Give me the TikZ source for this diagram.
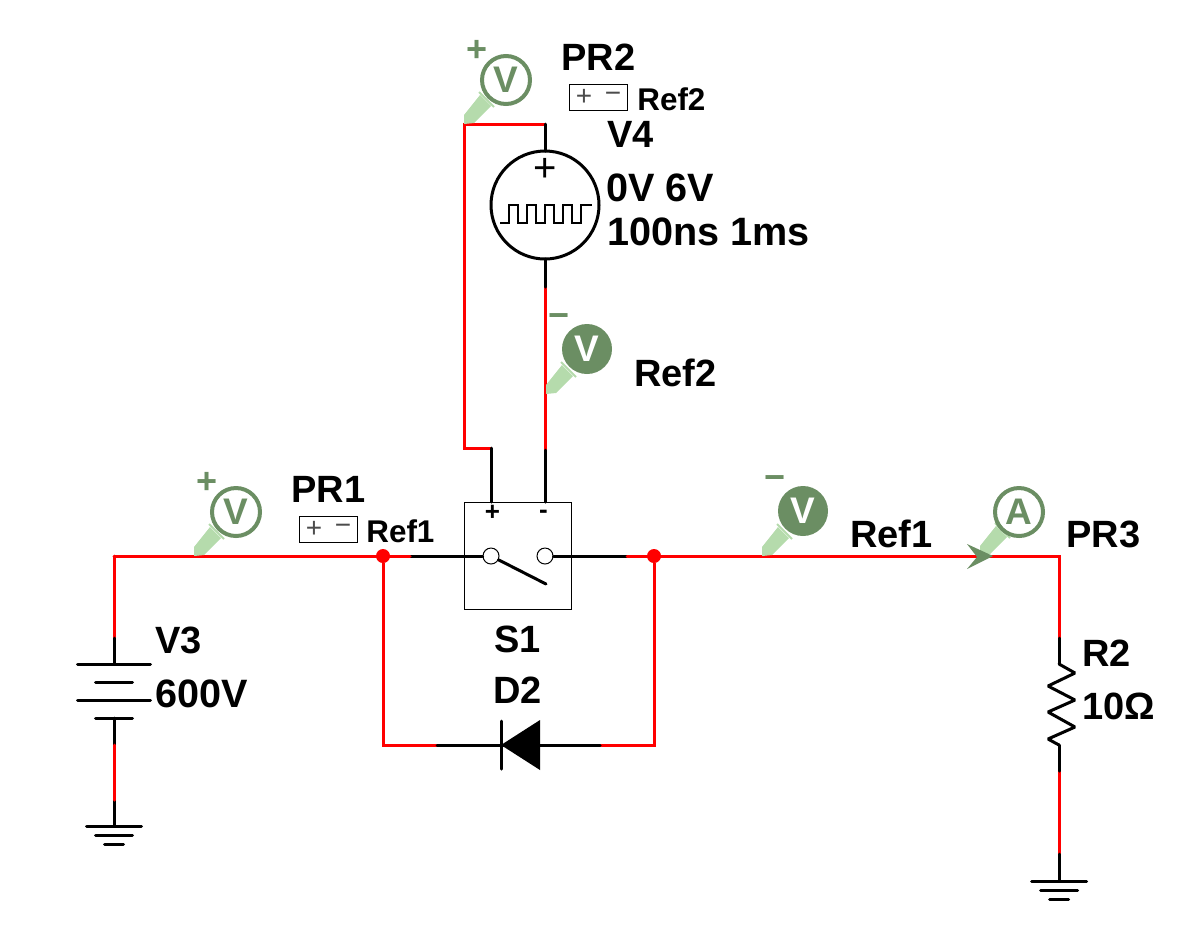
\documentclass[tikz,border=0pt]{standalone}
\usepackage{fontspec}
\setmainfont{Liberation Sans}
\usetikzlibrary{positioning}
\definecolor{probedark}{HTML}{6B8E63}
\definecolor{probepale}{HTML}{B5DBAC}
\tikzset{
    wire/.style={line width=1.5pt,line cap=round,line join=miter},
    redwire/.style={wire,red},
    thin box/.style={draw,line width=.5pt,inner sep=0pt},
    biglabel/.style={anchor=base west,inner sep=0pt,font=\fontsize{19}{19}\bfseries},
    valuelabel/.style={anchor=base west,inner sep=0pt,font=\fontsize{19.8}{19.8}\bfseries},
    smalllabel/.style={anchor=base west,inner sep=0pt,font=\fontsize{15.7}{15.7}\bfseries},
    sign/.style={inner sep=0pt,font=\fontsize{#1}{#1}\bfseries},
    boxsign/.style={inner sep=0pt,font=\fontsize{14}{14}\selectfont,text=black!70},
    dot/.style={circle,fill=red,inner sep=0pt,minimum size=7pt},
    terminal/.style={circle,draw,fill=white,line width=.5pt,inner sep=0pt,minimum size=8pt},
    handle/.pic={
        \fill[probepale] (0,0) -- (0,-9) -- (16,-29) -- (27,-18) -- (10,-1) -- cycle;
        \draw[probepale,line width=1pt] (15,-32) -- (30,-17);
    },
    vplus/.pic={
        \pic {handle};
        \node[circle,draw=probedark,line width=2pt,minimum size=24pt,inner sep=0pt,text=probedark,font=\fontsize{18.5}{18.5}\bfseries] (-c) at (42,-44) {V};
        \node[sign=18,text=probedark] (-s) at (13,-73) {+};
    },
    vminus/.pic={
        \pic {handle};
        \node[circle,fill=probedark,minimum size=25pt,inner sep=0pt,text=white,font=\fontsize{18.5}{18.5}\bfseries] (-c) at (41,-45) {V};
        \node[sign=18,text=probedark] (-s) at (13,-73) {−};
    }
}

\begin{document}
\begin{tikzpicture}[x=.5pt,y=-.5pt]
    \useasboundingbox (0,0) rectangle (1192,928);

    % wire corners
    \foreach \n/\x/\y in {a/114/556,b/114/638,c/114/663,d/114/718,e/114/745,f/114/800,g/114/826,
                          h/410/556,j/627/556,k/1059/556,l/1059/638,m/1059/664,n/1059/745,
                          o/1059/771,p/1059/854,q/1059/881,
                          r/383/745,s/437/745,t/600/745,u/654/745,
                          ctla/491/502,ctlb/491/448,ctlc/464/448,ctld/464/124,ctle/545/124,
                          ctlf/545/151,ctlg/545/259,ctlh/545/287,ctli/545/450,ctlj/545/502}
        \coordinate (\n) at (\x,\y);

    % switch
    \node[thin box,minimum width=53.5pt,minimum height=53.5pt] (S1) at (517.5,555.5) {};
    \node[terminal] (swl) at (491,556) {};
    \node[terminal] (swr) at (545,556) {};
    \node[sign=13] (swplus) at (492.5,513) {+};
    \node[sign=13] (swminus) at (543.5,514) {-};
    \coordinate (blade) at (546,584);
    \draw[wire] (swl) -- (blade);
    \draw[wire] (h) -- (swl);
    \draw[wire] (swr) -- (j);

    % red runs
    \node[dot] (jl) at (383,556) {};
    \node[dot] (jr) at (654,556) {};
    \draw[redwire] (a) -- (h);
    \draw[redwire] (j) -- (k) -- (l);
    \draw[redwire] (a) -- (b);
    \draw[redwire] (o) -- (p);
    \draw[redwire] (jl) -- (r) -- (s);
    \draw[redwire] (t) -- (u) -- (jr);
    \draw[redwire] (ctlb) -- (ctlc) -- (ctld) -- (ctle);
    \draw[redwire] (ctlh) -- (ctli);

    % black stubs
    \draw[wire] (b) -- (c);
    \draw[wire] (d) -- (e);
    \draw[wire] (f) -- (g);
    \draw[redwire] (e) -- (f);
    \draw[wire] (l) -- (m);
    \draw[wire] (n) -- (o);
    \draw[wire] (p) -- (q);
    \draw[wire] (ctla) -- (ctlb);
    \draw[wire] (ctle) -- (ctlf);
    \draw[wire] (ctlg) -- (ctlh);
    \draw[wire] (ctli) -- (ctlj);

    % battery
    \foreach \y/\w in {664/36.5,682/18.5,700/36.5,718/18.5}
        \draw[wire] (114-\w,\y) -- (114+\w,\y);

    % grounds
    \foreach \x/\y in {114/826,1059/881}{
        \draw[wire] (\x-27.5,\y) -- (\x+27.5,\y);
        \draw[wire] (\x-18.5,\y+9) -- (\x+18.5,\y+9);
        \draw[wire] (\x-9.5,\y+18) -- (\x+9.5,\y+18);
    }

    % resistor
    \draw[wire,line join=bevel] (m) -- (1075,673) -- (1048,686) -- (1075,700) -- (1048,712)
        -- (1075,727) -- (1048,739) -- (n);

    % diode
    \draw[wire] (s) -- (t);
    \draw[wire] (501,721) -- (501,769);
    \fill (501,745) -- (540,720) -- (540,770) -- cycle;

    % pulse source
    \node[circle,draw,line width=1.5pt,minimum size=54pt,inner sep=0pt] (V4) at (545,205) {};
    \node[inner sep=0pt,font=\fontsize{20}{20}\selectfont] (V4plus) at (545,170) {+};
    \draw[line width=1pt] (500,223) -- (509,223)
        \foreach \x in {509,527,545,563}{
            -- (\x,205) -- (\x+9,205) -- (\x+9,223) -- (\x+18,223)
        } -- (581,205) -- (592,205);

    % probes
    \pic (prone) at (194,556) {vplus};
    \pic (prtwo) at (464,124) {vplus};
    \pic (refone) at (762,556) {vminus};
    \pic (reftwo) at (546,394) {vminus};
    \pic at (980,555) {handle};
    \node[circle,draw=probedark,line width=2pt,minimum size=24pt,inner sep=0pt,text=probedark,font=\fontsize{18.5}{18.5}\bfseries] (PR3c) at (1019,512) {A};
    \fill[probedark] (967,544) -- (993,556) -- (967,569) -- (977,557) -- cycle;

    % reference boxes
    \node[thin box,minimum width=29pt,minimum height=13pt] (boxone) at (328,529) {};
    \node[thin box,minimum width=29pt,minimum height=13pt] (boxtwo) at (598,97) {};
    \node[boxsign] (boxonep) at (314,529) {+};
    \node[boxsign] (boxonem) at (343,529) {−};
    \node[boxsign] (boxtwop) at (584,97) {+};
    \node[boxsign] (boxtwom) at (613,97) {−};

    % labels
    \node[biglabel] (lPR1) at (291,502) {PR1};
    \node[biglabel] (lPR2) at (561,70) {PR2};
    \node[biglabel] (lPR3) at (1066,547) {PR3};
    \node[smalllabel] (lrefa) at (366,542) {Ref1};
    \node[smalllabel] (lrefb) at (637,110) {Ref2};
    \node[biglabel] (lrefc) at (850,547) {Ref1};
    \node[biglabel] (lrefd) at (634,386) {Ref2};
    \node[biglabel] (lV4) at (607,147) {V4};
    \node[valuelabel] (lV4a) at (606,201) {0V 6V};
    \node[valuelabel] (lV4b) at (607,245) {100ns 1ms};
    \node[biglabel] (lS1) at (494,652) {S1};
    \node[biglabel] (lD2) at (493,703) {D2};
    \node[biglabel] (lV3) at (155,653) {V3};
    \node[valuelabel] (lV3a) at (155,707) {600V};
    \node[biglabel] (lR2) at (1082,666) {R2};
    \node[biglabel] (lR2a) at (1082,719) {10Ω};
\end{tikzpicture}
\end{document}
